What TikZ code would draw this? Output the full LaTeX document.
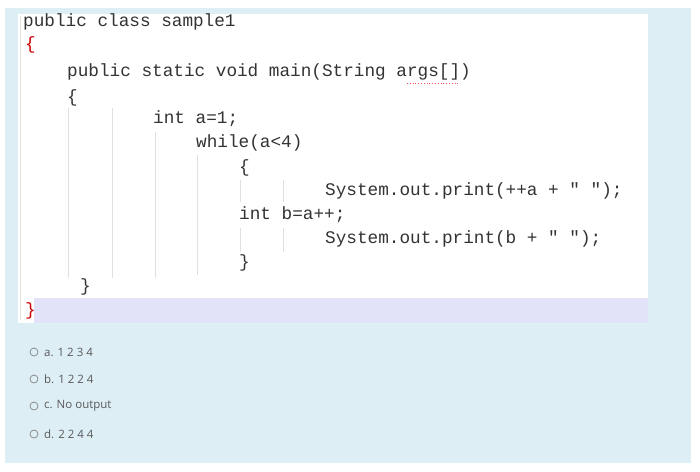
\documentclass[tikz,border=0pt]{standalone}
\usepackage{fontspec}
\setmonofont{Liberation Mono}
\newfontfamily\optfont{Open Sans}
\definecolor{panel}{RGB}{221,239,245}
\definecolor{hilite}{RGB}{226,226,248}
\begin{document}
\begin{tikzpicture}[x=1pt,y=-1pt,
  code/.style={anchor=west,inner sep=0pt,font=\ttfamily\fontsize{17.7}{18}\selectfont,text=black!80},
  opt/.style={anchor=west,inner sep=0pt,font=\optfont\fontsize{11.5}{13}\selectfont,text=black!65},
  radio/.style={circle,draw=black!45,line width=0.8pt,minimum size=8pt,inner sep=0pt},
  guide/.style={draw=black!12,line width=0.6pt}]
\useasboundingbox (0,0) rectangle (700,471);
\fill[white] (0,0) rectangle (700,471);
\fill[panel] (5,8) rectangle (691,463);
\fill[white] (18,14) rectangle (648,323);
\fill[hilite] (34,298) rectangle (648,323);
% guides
\foreach \gx in {68,112}{\draw[guide] (\gx,108) -- (\gx,278);}
\draw[guide] (155,132) -- (155,278);
\draw[guide] (197,155) -- (197,275);
\draw[guide] (240,180) -- (240,202);
\draw[guide] (283,180) -- (283,202);
\draw[guide] (240,228) -- (240,252);
\draw[guide] (283,228) -- (283,252);
\draw[guide] (20,16) -- (20,320);
% code
\node[code] (l1) at (23,22) {public class sample1};
\node[code,text=red!80!black] (l2) at (25,45) {\{};
\node[code] (l3) at (67,72) {public static void main(String args[])};
\node[code] (l4) at (67,98) {\{};
\node[code] (l5) at (153,119) {int a=1;};
\node[code] (l6) at (196,143) {while(a<4)};
\node[code] (l7) at (239,168) {\{};
\node[code] (l8) at (325,191) {System.out.print(++a + " ");};
\node[code] (l9) at (239,215) {int b=a++;};
\node[code] (l10) at (325,239) {System.out.print(b + " ");};
\node[code] (l11) at (239,263) {\}};
\node[code] (l12) at (80,287) {\}};
\node[code,text=red!80!black] (l13) at (25,311) {\}};
\draw[red!70,dotted,line width=0.8pt] (407,83) -- (460,83);
% options
\foreach \i/\yy/\t in {a/352/{a. 1 2 3 4},b/379/{b. 1 2 2 4},c/406/{c. No output},d/434/{d. 2 2 4 4}}{
  \node[radio] (r\i) at (34,\yy) {};
  \node[opt] (o\i) at (44,\yy) {\t};
}
\end{tikzpicture}
\end{document}
